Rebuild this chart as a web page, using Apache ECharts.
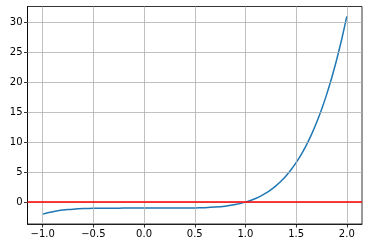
<!DOCTYPE html>
<html><head><meta charset="utf-8">
<script src="https://cdn.jsdelivr.net/npm/echarts@6/dist/echarts.min.js"></script>
<style>html,body{margin:0;padding:0;background:#fff}#c{width:368px;height:248px}</style>
</head><body><div id="c"></div>
<script>
const xValues = [-1.0,-0.95,-0.9,-0.85,-0.8,-0.75,-0.7,-0.6,-0.5,-0.4,-0.3,-0.2,-0.1,0.0,0.1,0.2,0.3,0.4,0.5,0.6,0.7,0.8,0.9,1.0,1.05,1.1,1.15,1.2,1.25,1.3,1.35,1.4,1.45,1.5,1.55,1.6,1.65,1.7,1.75,1.8,1.85,1.9,1.95,2.0];
const yValues = [-2.0,-1.774,-1.59,-1.444,-1.328,-1.237,-1.168,-1.078,-1.031,-1.01,-1.002,-1.0,-1.0,-1.0,-1.0,-1.0,-0.998,-0.99,-0.969,-0.922,-0.832,-0.672,-0.41,0.0,0.276,0.611,1.011,1.488,2.052,2.713,3.484,4.378,5.41,6.594,7.947,9.486,11.23,13.2,15.41,17.9,20.67,23.76,27.19,31.0];
const xTicks = [-1.0,-0.5,0.0,0.5,1.0,1.5,2.0];
const xTickLabels = ['\u22121.0','\u22120.5','0.0','0.5','1.0','1.5','2.0'];
const yTicks = [0,5,10,15,20,25,30];
const yTickLabels = ['0','5','10','15','20','25','30'];
const hLineValue = 0;

const chart = echarts.init(document.getElementById('c'), null, {renderer:'canvas'});
const font = {fontFamily:'DejaVu Sans', fontSize:10, color:'#000'};
const gridStyle = {color:'#b0b0b0', width:0.8, type:'solid'};
chart.setOption({
  animation:false,
  grid:{left:27.5, right:6, top:6.5, bottom:24, show:true, borderColor:'#000', borderWidth:0.8, backgroundColor:'transparent'},
  xAxis:{type:'value', min:-1.15, max:2.15,
    axisLine:{show:true, onZero:false, lineStyle:{color:'#000', width:0.8}},
    axisTick:{show:true, customValues:xTicks, length:3.5, lineStyle:{color:'#000', width:0.8}},
    axisLabel:Object.assign({show:true, customValues:xTicks, margin:5,
      formatter:v=>{const i=xTicks.findIndex(t=>Math.abs(t-v)<1e-6);return i>=0?xTickLabels[i]:'';}}, font),
    splitLine:{show:false}},
  yAxis:{type:'value', min:-3.65, max:32.65,
    axisLine:{show:true, onZero:false, lineStyle:{color:'#000', width:0.8}},
    axisTick:{show:true, customValues:yTicks, length:3.5, lineStyle:{color:'#000', width:0.8}},
    axisLabel:Object.assign({show:true, customValues:yTicks, margin:5,
      formatter:v=>{const i=yTicks.findIndex(t=>Math.abs(t-v)<1e-6);return i>=0?yTickLabels[i]:'';}}, font),
    splitLine:{show:false}},
  series:[
    {type:'line', data:[], silent:true,
     markLine:{silent:true, symbol:'none', label:{show:false}, lineStyle:gridStyle, animation:false,
       data:xTicks.map(v=>({xAxis:v})).concat(yTicks.map(v=>({yAxis:v})))}},
    {type:'line', data:xValues.map((x,i)=>[x,yValues[i]]), showSymbol:false, smooth:0.2,
     lineStyle:{color:'#1f77b4', width:1.5}, itemStyle:{color:'#1f77b4'}, z:3},
    {type:'line', data:[], z:4,
     markLine:{silent:true, symbol:'none', label:{show:false}, animation:false,
       lineStyle:{color:'#ff0000', width:1.5, type:'solid'}, data:[{yAxis:hLineValue}]}}
  ]
});
</script></body></html>
